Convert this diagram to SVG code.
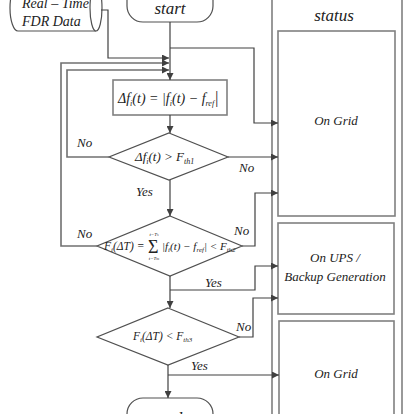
<svg xmlns="http://www.w3.org/2000/svg" width="414" height="414" viewBox="0 0 414 414">
<defs>
<marker id="ah" viewBox="0 0 10 10" refX="10" refY="5" markerWidth="7" markerHeight="7" markerUnits="userSpaceOnUse" orient="auto">
<path d="M0,0 L10,5 L0,10 Z" fill="#404040"/>
</marker>
</defs>
<style>
.t{font-family:'Times New Roman','Liberation Serif',serif;font-style:italic;fill:#222}
.ln{fill:none;stroke:#404040;stroke-width:1.2}
.lg{fill:none;stroke:#707070;stroke-width:1.6}
.box{fill:#fff;stroke:#808080;stroke-width:1.6}
.shape{fill:#fff;stroke:#505050;stroke-width:1.2}
</style>
<rect width="414" height="414" fill="#fff"/>

<g id="status-column">
<rect x="272" y="-5" width="130" height="430" fill="#fff" stroke="#555" stroke-width="1.2"/>
<text class="t" x="334" y="21" font-size="17" text-anchor="middle">status</text>
</g>
<g id="on-grid-1">
<rect class="box" x="278" y="31" width="117" height="185"/>
<text class="t" x="336" y="125" font-size="13" text-anchor="middle">On Grid</text>
</g>
<g id="on-ups">
<rect class="box" x="278" y="223" width="116" height="91"/>
<text class="t" x="335" y="262" font-size="13" text-anchor="middle">On UPS /</text>
<text class="t" x="335" y="281" font-size="13" text-anchor="middle">Backup Generation</text>
</g>
<g id="on-grid-2">
<rect class="box" x="279" y="321" width="115" height="110"/>
<text class="t" x="336" y="378" font-size="13" text-anchor="middle">On Grid</text>
</g>

<g id="data">
<path class="shape" d="M18,-15 H96 A6,23 0 0 1 96,31 H18 A8,23 0 0 1 18,-15 Z"/>
<path class="shape" d="M96,-15 A6,23 0 0 0 96,31"/>
<text class="t" x="22" y="8" font-size="14">Real – Time</text>
<text class="t" x="22" y="26" font-size="14">FDR Data</text>
</g>

<g id="start">
<rect class="shape" x="127" y="-20" width="86" height="42" rx="16"/>
<text class="t" x="170" y="14" font-size="17" text-anchor="middle">start</text>
</g>

<g id="calc">
<rect class="box" x="113" y="80" width="114" height="35"/>
<text class="t" x="118" y="103" font-size="14">Δf<tspan font-size="8" dy="3">i</tspan><tspan dy="-3">(t) = |f</tspan><tspan font-size="8" dy="3">i</tspan><tspan dy="-3">(t) − f</tspan><tspan font-size="8" dy="3">ref</tspan><tspan dy="-3" font-size="16">|</tspan></text>
</g>

<g id="dec1">
<polygon class="shape" points="169,133 228,157 169,180 109,157"/>
<text class="t" x="135" y="161" font-size="13">Δf<tspan font-size="8" dy="3">i</tspan><tspan dy="-3">(t) &gt; F</tspan><tspan font-size="8" dy="3">th1</tspan></text>
</g>

<g id="dec2">
<polygon class="shape" points="170,216 242,246 170,276 97,246"/>
<text class="t" x="104" y="250" font-size="11.5">F<tspan font-size="7" dy="2">i</tspan><tspan dy="-2">(ΔT) =</tspan></text>
<text class="t" x="148" y="253" font-size="18" style="font-style:normal">Σ</text>
<text class="t" x="154" y="236" font-size="5" text-anchor="middle">t=T<tspan font-size="4">s</tspan></text>
<text class="t" x="154" y="260" font-size="5" text-anchor="middle">t=T<tspan font-size="4">m</tspan></text>
<text class="t" x="162" y="250" font-size="11">|f<tspan font-size="7" dy="2">i</tspan><tspan dy="-2">(t) − f</tspan><tspan font-size="7" dy="2">ref</tspan><tspan dy="-2">| &lt; F</tspan><tspan font-size="7" dy="2">th2</tspan></text>
</g>

<g id="dec3">
<polygon class="shape" points="168,308 239,337 168,365 97,337"/>
<text class="t" x="133" y="340" font-size="11.5">F<tspan font-size="7" dy="2">i</tspan><tspan dy="-2">(ΔT) &lt; F</tspan><tspan font-size="7" dy="2">th3</tspan></text>
</g>

<g id="end">
<rect class="shape" x="127" y="398" width="86" height="40" rx="16"/>
<text class="t" x="170" y="424" font-size="17" text-anchor="middle">end</text>
</g>

<g id="connectors">
<path class="ln" d="M170,22 V80" marker-end="url(#ah)"/>
<path class="ln" d="M101,10 H108 V58 H169" marker-end="url(#ah)"/>
<path class="lg" d="M109,157 H67 V70 H169" marker-end="url(#ah)"/>
<path class="lg" d="M97,246 H61 V63 H169" marker-end="url(#ah)"/>
<path class="ln" d="M170,48 H254 V123 H278" marker-end="url(#ah)"/>
<path class="ln" d="M170,115 V133" marker-end="url(#ah)"/>
<path class="ln" d="M228,157 H278" marker-end="url(#ah)"/>
<path class="ln" d="M170,180 V216" marker-end="url(#ah)"/>
<path class="ln" d="M242,246 H255 V193 H278" marker-end="url(#ah)"/>
<path class="ln" d="M170,276 V308" marker-end="url(#ah)"/>
<path class="ln" d="M170,290 H255 V266 H278" marker-end="url(#ah)"/>
<path class="ln" d="M239,337 H253 V298 H278" marker-end="url(#ah)"/>
<path class="ln" d="M168,365 V398" marker-end="url(#ah)"/>
<path class="ln" d="M168,375 H279" marker-end="url(#ah)"/>
</g>

<g id="labels">
<text class="t" x="77" y="147" font-size="13">No</text>
<text class="t" x="239" y="172" font-size="13">No</text>
<text class="t" x="136" y="196" font-size="13">Yes</text>
<text class="t" x="77" y="238" font-size="13">No</text>
<text class="t" x="234" y="235" font-size="13">No</text>
<text class="t" x="205" y="287" font-size="13">Yes</text>
<text class="t" x="236" y="331" font-size="13">No</text>
<text class="t" x="191" y="370" font-size="13">Yes</text>
</g>
</svg>
